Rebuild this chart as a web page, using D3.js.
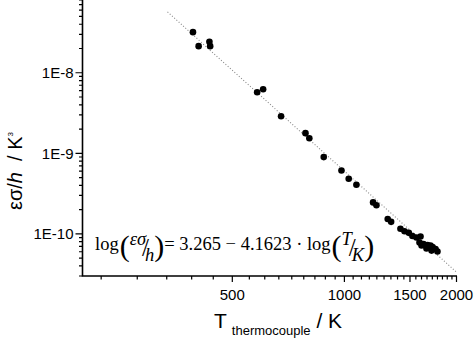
<!DOCTYPE html>
<html><head><meta charset="utf-8">
<script src="https://cdn.jsdelivr.net/npm/d3@7"></script>
<style>html,body{margin:0;padding:0;background:#fff;}svg{display:block;}</style>
</head><body>
<svg id="c" width="474" height="338"></svg>
<script>
// ---- data ----
const tempK = [392, 406, 434, 436, 583, 605, 676, 786, 805, 880, 982, 1027, 1077,
  1194, 1219, 1307, 1335, 1414, 1450, 1489, 1523, 1561, 1601, 1591, 1631, 1672,
  1703, 1725, 1757, 1778, 1661, 1714, 1611];
const epsSigmaH = [3.19e-8, 2.14e-8, 2.42e-8, 2.14e-8, 5.72e-9, 6.23e-9, 2.89e-9, 1.78e-9,
  1.54e-9, 8.97e-10, 6.12e-10, 4.84e-10, 4.07e-10, 2.46e-10, 2.27e-10, 1.53e-10,
  1.41e-10, 1.16e-10, 1.08e-10, 1.03e-10, 9.4e-11, 9.0e-11, 9.27e-11, 7.8e-11,
  7.48e-11, 7.26e-11, 7.16e-11, 6.87e-11, 6.49e-11, 6.04e-11, 6.58e-11, 6.2e-11, 7.16e-11];
const fitCoef = [3.265, -4.1623];          // log(y) = a + b*log(T)
const fitRangeT = [335, 2000];
const xMajorTicks = [500, 1000, 1500, 2000];
const xTickLabels = ["500", "1000", "1500", "2000"];
const xMinorStep = [500 / 9];
const yMajorTicks = [1e-10, 1e-9, 1e-8];
const yTickLabels = ["1E-10", "1E-9", "1E-8"];
const xDomain = [198, 2000];
const yDomain = [3e-11, 8e-8];

// ---- drawing ----
const svg = d3.select("#c");
const x = d3.scaleLog().domain(xDomain).range([82.5, 456.5]);
const y = d3.scaleLog().domain(yDomain).range([276, 0]);
const X0 = 82.5, Y0 = 276;

const xMinor = [];
for (let t = 500 - 5 * xMinorStep[0]; t < 2000; t += xMinorStep[0]) {
  if (!xMajorTicks.some(m => Math.abs(m - t) < 1)) xMinor.push(t);
}
const yMinor = [];
for (let e = -11; e <= -8; e++) for (let k = 2; k <= 9; k++) {
  const v = k * Math.pow(10, e);
  if (v >= yDomain[0] && v <= yDomain[1]) yMinor.push(v);
}

const axisFont = "'Liberation Sans', Arial, sans-serif";

// ticks (through the scales)
const xTickPath = xMajorTicks.map(d => `M${x(d)},${Y0}v6`).join("") +
  xMinor.map(d => `M${x(d)},${Y0}v3.5`).join("");
const yTickPath = yMajorTicks.map(d => `M${X0},${y(d)}h-7`).join("") +
  yMinor.map(d => `M${X0},${y(d)}h-3.5`).join("");
svg.append("path").attr("d", xTickPath).attr("stroke", "#000").attr("stroke-width", 1.2).attr("fill", "none");
svg.append("path").attr("d", yTickPath).attr("stroke", "#000").attr("stroke-width", 1.2).attr("fill", "none");

// axis lines
svg.append("path").attr("d", `M${X0},0V${Y0}H457`).attr("stroke", "#000").attr("stroke-width", 1.6).attr("fill", "none");

// tick labels
svg.append("g").selectAll("text").data(xMajorTicks).join("text")
  .attr("x", d => x(d)).attr("y", 300).attr("text-anchor", "middle")
  .attr("font-family", axisFont).attr("font-size", 15).text((d, i) => xTickLabels[i]);
svg.append("g").selectAll("text").data(yMajorTicks).join("text")
  .attr("x", X0 - 9).attr("y", d => y(d)).attr("dy", "0.35em").attr("text-anchor", "end")
  .attr("font-family", axisFont).attr("font-size", 15).text((d, i) => yTickLabels[i]);

// fit line
const fitPts = fitRangeT.map(t => ({ t, v: Math.pow(10, fitCoef[0] + fitCoef[1] * Math.log10(t)) }));
svg.append("path")
  .attr("d", d3.line().x(d => x(d.t)).y(d => y(d.v))(fitPts))
  .attr("fill", "none").attr("stroke", "#888").attr("stroke-width", 1.1)
  .attr("stroke-dasharray", "1,2");

// points
svg.append("g").selectAll("circle").data(tempK).join("circle")
  .attr("cx", d => x(d)).attr("cy", (d, i) => y(epsSigmaH[i])).attr("r", 3.3).attr("fill", "#000");

// equation
const serif = "'Liberation Serif', 'Times New Roman', serif";
const eq = svg.append("text").attr("x", 95).attr("y", 250)
  .attr("font-family", serif).attr("font-size", 18.5).attr("fill", "#000");
eq.append("tspan").text("log");
eq.append("tspan").attr("y", 256).attr("font-size", 30).attr("dx", 1).text("(");
eq.append("tspan").attr("y", 245).attr("font-style", "italic").text("εσ");
eq.append("tspan").attr("y", 256).attr("font-size", 25).attr("dx", -4).text("/");
eq.append("tspan").attr("y", 261).attr("font-style", "italic").attr("dx", -4).text("h");
eq.append("tspan").attr("y", 256).attr("font-size", 30).text(")");
eq.append("tspan").attr("y", 250).text("= 3.265 \u2212 4.1623 \u00B7 log");
eq.append("tspan").attr("y", 256).attr("font-size", 30).attr("dx", 1).text("(");
eq.append("tspan").attr("y", 245).attr("font-style", "italic").text("T");
eq.append("tspan").attr("y", 256).attr("font-size", 25).attr("dx", -3).text("/");
eq.append("tspan").attr("y", 261).attr("font-style", "italic").attr("dx", -4).text("K");
eq.append("tspan").attr("y", 256).attr("font-size", 30).text(")");

// x title
const xt = svg.append("text").attr("x", 214).attr("y", 328)
  .attr("font-family", axisFont).attr("font-size", 21).attr("fill", "#000");
xt.append("tspan").text("T");
xt.append("tspan").attr("dx", 5).attr("dy", 7).attr("font-size", 13).text("thermocouple");
xt.append("tspan").attr("dy", -7).text(" / K");

// y title
const yt = svg.append("text").attr("transform", "translate(22,210) rotate(-90)")
  .attr("font-family", axisFont).attr("font-size", 20).attr("fill", "#000");
yt.append("tspan").text("εσ/");
yt.append("tspan").attr("font-style", "italic").text("h");
yt.append("tspan").text("\u00A0\u00A0/ K");
yt.append("tspan").attr("dy", -9).attr("font-size", 8).text("3");
</script>
</body></html>
